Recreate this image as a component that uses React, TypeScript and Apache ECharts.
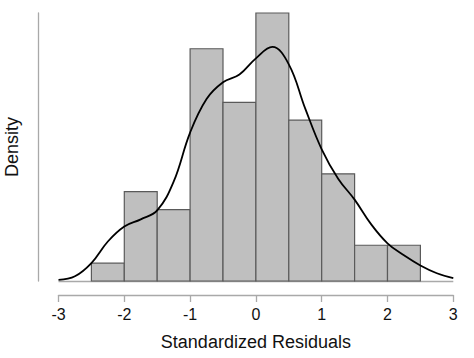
import React, { useEffect, useRef } from "react";
import * as echarts from "echarts";

const binStarts = [-2.5, -2, -1.5, -1, -0.5, 0, 0.5, 1, 1.5, 2];
const binWidth = 0.5;
const counts = [1, 5, 4, 13, 10, 15, 9, 6, 2, 2];
const densityX = [-3, -2.75, -2.5, -2.25, -2, -1.75, -1.5, -1.25, -1, -0.75, -0.5, -0.25, 0, 0.25, 0.5, 0.75, 1, 1.25, 1.5, 1.75, 2, 2.25, 2.5, 2.75, 3];
const densityY = [0.002, 0.008, 0.03, 0.066, 0.091, 0.103, 0.118, 0.166, 0.248, 0.304, 0.332, 0.345, 0.372, 0.391, 0.362, 0.288, 0.22, 0.171, 0.136, 0.095, 0.063, 0.043, 0.026, 0.013, 0.005];
const xTicks = [-3, -2, -1, 0, 1, 2, 3];

const FONT = "Liberation Sans, Arial, sans-serif";
const AXIS_GRAY = "#a9a9a9";

export default function App() {
  const ref = useRef<HTMLDivElement>(null);
  useEffect(() => {
    if (!ref.current) return;
    const chart = echarts.init(ref.current, undefined, { renderer: "svg" });
    const n = counts.reduce((a, b) => a + b, 0);
    const hist = binStarts.map((s, i) => [s, s + binWidth, counts[i] / (n * binWidth)]);
    const yMax = Math.max(...hist.map((h) => h[2]));
    const xMin = xTicks[0];
    const xMax = xTicks[xTicks.length - 1];
    chart.setOption({
      animation: false,
      grid: { left: 58.5, right: 20.7, top: 13, bottom: 77, containLabel: false, outerBoundsMode: "none" },
      xAxis: {
        type: "value",
        min: xMin,
        max: xMax,
        interval: 1,
        offset: 14,
        axisLine: { show: true, onZero: false, lineStyle: { color: AXIS_GRAY, width: 1.3 } },
        axisTick: { show: true, length: 7, lineStyle: { color: AXIS_GRAY, width: 1.3 } },
        axisLabel: { fontSize: 16, color: "#111", fontFamily: FONT, margin: 11 },
        splitLine: { show: false },
        name: "Standardized Residuals",
        nameLocation: "middle",
        nameGap: 38,
        nameTextStyle: { fontSize: 18, color: "#111", fontFamily: FONT },
      },
      yAxis: {
        type: "value",
        min: 0,
        max: yMax,
        offset: 20.5,
        axisLine: { show: true, onZero: false, lineStyle: { color: AXIS_GRAY, width: 1.3 } },
        axisTick: { show: false },
        axisLabel: { show: false },
        splitLine: { show: false },
        name: "Density",
        nameLocation: "middle",
        nameGap: 17.5,
        nameTextStyle: { fontSize: 18, color: "#111", fontFamily: FONT },
      },
      series: [
        {
          type: "custom",
          data: hist,
          renderItem: (params: any, api: any) => {
            const p0 = api.coord([api.value(0), 0]);
            const p1 = api.coord([api.value(1), api.value(2)]);
            return {
              type: "rect",
              shape: { x: p0[0], y: p1[1], width: p1[0] - p0[0], height: p0[1] - p1[1] },
              style: { fill: "#bfbfbf", stroke: "#5a5a5a", lineWidth: 1.2 },
            };
          },
          encode: { x: [0, 1], y: 2 },
          z: 2,
        },
        {
          type: "line",
          data: densityX.map((x, i) => [x, densityY[i]]),
          smooth: 0.4,
          showSymbol: false,
          lineStyle: { color: "#000", width: 1.8 },
          z: 3,
          markLine: {
            silent: true,
            symbol: "none",
            label: { show: false },
            lineStyle: { color: AXIS_GRAY, width: 1.3, type: "solid" },
            data: [[{ coord: [xMin, 0] }, { coord: [xMax, 0] }]],
            z: 1,
          },
        },
      ],
    });
    return () => chart.dispose();
  }, []);
  return <div ref={ref} style={{ width: 474, height: 358, position: "absolute", left: 0, top: 0 }} />;
}
